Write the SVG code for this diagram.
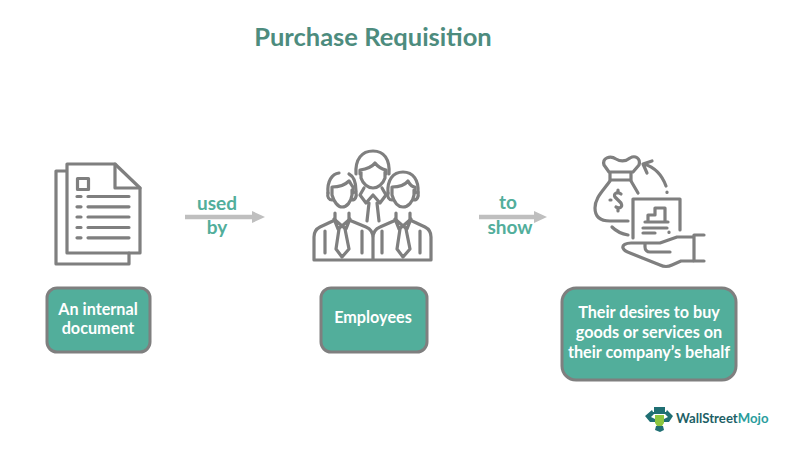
<svg xmlns="http://www.w3.org/2000/svg" width="810" height="449" viewBox="0 0 810 449">
<style>
.ic{fill:none;stroke:#7f7f7f;stroke-width:3.2;stroke-linecap:round;stroke-linejoin:round}
.ln{fill:none;stroke:#bfbfbf;stroke-width:4.5}
.hd{fill:#bfbfbf}
.box{fill:#52ae9b;stroke:#7f7f7f;stroke-width:3}
text{font-family:"Lato","Carlito","Open Sans",sans-serif;font-weight:700}
.bt{fill:#fff;font-size:16.200px;text-anchor:middle}
.lb{fill:#52ae9b;font-size:19px;text-anchor:middle}
</style>
<rect width="810" height="449" fill="#fff"/>
<text x="373" y="46" text-anchor="middle" font-size="25.500" fill="#4d8c7e">Purchase Requisition</text>
<g id="connectors">
<path class="ln" d="M185 217H254"/><path class="hd" d="M252 211L265 217L252 223Z"/>
<path class="ln" d="M479 217H536"/><path class="hd" d="M534 211L547 217L534 223Z"/>
</g>
<g id="label-used-by"><text class="lb" x="217" y="210">used</text><text class="lb" x="217" y="234">by</text></g>
<g id="label-to-show"><text class="lb" x="508" y="209">to</text><text class="lb" x="510" y="234">show</text></g>
<g id="node-document">
<path class="ic" d="M66 171H56V264H129V253"/>
<path class="ic" d="M67 164H115L140 188V253H67Z"/>
<path class="ic" d="M115 164V188H140"/>
<rect class="ic" x="77.500" y="178.500" width="11" height="11" stroke-linecap="butt"/>
<path class="ic" d="M77 196.500H81M88 196.500H129M77 206.800H81M88 206.800H129M77 217H81M88 217H129M77 227.500H81M88 227.500H129M77 237.800H81M88 237.800H129"/>
<rect class="box" x="47" y="288" width="103" height="64" rx="10"/>
<text class="bt" x="98" y="315">An internal</text><text class="bt" x="98" y="334">document</text>
</g>
<g id="node-employees">
<path class="ic" d="M356 174C355 159 362 151 373 151C384 151 390 159 389 174"/>
<path class="ic" d="M360 174V170C367 169 372 167 375 163C378 167 382 169 386 170V174M361 172V178C363 184 368 188 373 188C378 188 383 184 385 178V172"/>
<path class="ic" d="M339 173C332 174 327 181 328 193M349 174C353 176 356 182 356 191"/>
<path class="ic" d="M332 193V187C340 187 345 185 349 181C351 184 352 186 353 187V193M332 190V195C334 202 338 207 342 207C347 207 351 202 352 195V190M328 193C327 197 329 200 332 200M356 192C357 197 355 200 352 200"/>
<path class="ic" d="M388 193C387 180 393 172 403 172C413 172 419 180 418 193"/>
<path class="ic" d="M392 193V187C399 187 405 185 408 181C410 185 413 187 415 187V193M392 190V195C394 202 398 207 403 207C408 207 413 202 414 195V190M388 193C387 197 389 200 392 200M418 192C419 197 417 200 414 200"/>
<path class="ic" d="M314 260V237C314 232 316 229 320 227L335 220V213M349 213V220L366 227C371 229 373 233 373 238V260M314 260H431M373 238C373 233 375 229 380 227L396 220V213M410 213V220L425 227C429 229 431 232 431 237V260"/>
<path class="ic" d="M334 219L342 226L350 219L346 229L342 226L338 229ZM395 219L403 226L411 219L407 229L403 226L399 229Z"/>
<path class="ic" d="M339 229L336 249L342 257L349 249L345 229M400 229L397 249L403 257L410 249L406 229"/>
<path class="ic" d="M325 231V253M362 231V253M382 231V253M420 231V253"/>
<path class="ic" d="M364 188L360 195L366 203L373 195L380 203L386 195L382 188M369 203L367 221M377 203L379 221"/>
<rect class="box" x="321" y="288" width="106" height="64" rx="10"/>
<text class="bt" x="373" y="323">Employees</text>
</g>
<g id="node-desires">
<path class="ic" d="M609 172L604 165C602 158 610 155 616 159C621 162 625 162 630 158C635 155 641 158 639 165L633 172H609ZM610 172V180H631V172"/>
<path class="ic" d="M610 181C602 192 595 198 595 208C595 217 601 221 610 221H628M631 181L638 193"/>
<path class="ic" d="M621 194C617 191 613 194 615 197L621 203C623 207 620 209 616 207M618 190V193M618 208V211M610 200H611"/>
<path class="ic" d="M666 186C662 175 654 167 644 164M652 161L643 164L647 173M667 192V192.500"/>
<path class="ic" d="M612 227C617 232 622 234 628 235"/>
<path class="ic" d="M633 238V199H680V230"/>
<path class="ic" d="M648 222V215H655V208H665V222M645 222H668M643 228H667M643 233H655M669 232V232.500"/>
<path class="ic" d="M693 237H677L660 243H631C626 243 622 245 623 248C624 251 627 252 630 253L660 265C664 267 668 267 672 265L681 261H693M645 243V247C645 250 647 252 650 252H670"/>
<path class="ic" d="M694 235H704M694 235V261M694 261H704"/>
<rect class="box" x="562" y="288" width="174" height="92" rx="14"/>
<text class="bt" x="649" y="318">Their desires to buy</text><text class="bt" x="649" y="338">goods or services on</text><text class="bt" x="649" y="358">their company’s behalf</text>
</g>
<g id="logo">
<path fill="#1f6f73" d="M654 407H665V412H668V414H651V412H654Z"/>
<path fill="#1f6f73" d="M645 416L652 410L654 414L651 417L655 419V422L650 422ZM673 416L667 410L665 414L668 417L664 419V422L669 422Z"/>
<path fill="#8cc63f" d="M655 415H664V423L662 426H657L655 423Z"/>
<path fill="#1f6f73" d="M656 426H663L664 430L660 432L655 430Z"/>
<text x="676" y="423" font-size="13.200" fill="#1d5f66">WallStreet<tspan fill="#2a9d9d">Mojo</tspan></text>
</g>
</svg>
